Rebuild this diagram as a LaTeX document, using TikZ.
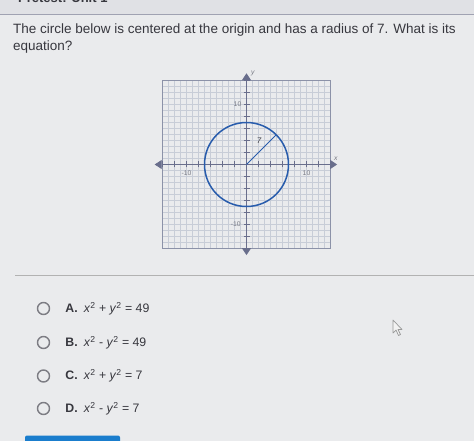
\documentclass[tikz,border=0pt]{standalone}
\usepackage{fontspec}
\setmainfont{Liberation Sans}
\usetikzlibrary{arrows.meta,positioning}
\definecolor{bgpage}{RGB}{234,235,237}
\definecolor{bgtop}{RGB}{224,225,229}
\definecolor{sepline}{RGB}{160,162,178}
\definecolor{gridline}{RGB}{200,205,215}
\definecolor{gridframe}{RGB}{140,146,168}
\definecolor{axisline}{RGB}{105,110,140}
\definecolor{circblue}{RGB}{40,92,172}
\definecolor{inkgray}{RGB}{55,55,62}
\definecolor{ticktext}{RGB}{120,122,132}
\definecolor{radiogray}{RGB}{125,125,132}
\definecolor{btnblue}{RGB}{26,125,205}
\begin{document}
\begin{tikzpicture}[x=1pt,y=-1pt,
  qtext/.style={anchor=base west,inner sep=0pt,text=inkgray,font=\fontsize{13.5}{16}\selectfont},
  radio/.style={draw=radiogray,circle,line width=1.4pt,minimum size=12pt,inner sep=0pt},
  optlabel/.style={anchor=west,inner sep=0pt,text=inkgray,font=\fontsize{12.3}{14}\selectfont},
  ticklabel/.style={inner sep=0pt,text=ticktext,font=\fontsize{6.8}{7}\selectfont},
  axis/.style={draw=axisline,line width=0.8pt,{Triangle[width=9pt,length=7pt]}-{Triangle[width=9pt,length=7pt]}},
  node distance={15pt}]
  \useasboundingbox (0,0) rectangle (474,441);
  \clip (0,0) rectangle (474,441);
  % page background
  \fill[bgpage] (0,0) rectangle (474,441);
  \fill[bgtop] (0,0) rectangle (474,15);
  \draw[sepline,line width=1pt] (0,15) -- (474,15);
  \draw[gray!60,line width=0.5pt] (15,275) -- (474,275);
  \node[anchor=base west,inner sep=0pt,text=inkgray,font=\fontsize{13}{15}\selectfont\bfseries] (title) at (18,2.5) {Pretest: Unit 1};
  % question
  \node[qtext] (q1) at (13,34) {The circle below is centered at the origin and has a radius of 7. What is its};
  \node[qtext] (q2) at (13,51) {equation?};
  % graph
  \begin{scope}[xshift=246.5pt,yshift=-164.5pt,x=6pt,y=6pt]
    \draw[gridline,line width=0.4pt,step=6pt] (-14,-14) grid (14,14);
    \draw[gridframe,line width=0.8pt] (-14,-14) rectangle (14,14);
    \coordinate (xl) at (-15.3,0);
    \coordinate (xr) at (15.1,0);
    \coordinate (yb) at (0,-15.1);
    \coordinate (yt) at (0,15.2);
    \draw[axis] (xl) -- (xr);
    \draw[axis] (yb) -- (yt);
    \foreach \t in {-14,-12,...,14} {
      \draw[axisline,line width=0.6pt] (\t,-0.5) -- (\t,0.5);
      \draw[axisline,line width=0.6pt] (-0.5,\t) -- (0.5,\t);
    }
    \node[ticklabel] (xm10) at (-10,-1.4) {-10};
    \node[ticklabel] (xp10) at (10,-1.4) {10};
    \node[ticklabel] (yp10) at (-1.5,10) {10};
    \node[ticklabel] (ym10) at (-1.8,-10) {-10};
    \node[ticklabel] (xlab) at (14.9,1.0) {\textit{x}};
    \node[ticklabel] (ylab) at (1.1,15.1) {\textit{y}};
    \coordinate (origin) at (0,0);
    \coordinate (rimpt) at (45:7);
    \draw[circblue,line width=1.5pt] (origin) circle (7);
    \draw[circblue,line width=1pt] (origin) -- (rimpt);
    \node[inner sep=0pt,text=inkgray,font=\fontsize{8}{9}\selectfont\itshape] (rlab) at (2.1,3.9) {7};
  \end{scope}
  % answer choices
  \node[radio] (radA) at (43.5,308.5) {};
  \node[radio] (radB) at (43.5,342.5) {};
  \node[radio] (radC) at (43.5,376) {};
  \node[radio] (radD) at (43.5,408.5) {};
  \node[optlabel,right=15pt of radA] (optA) {\textbf{A.}\enspace\textit{x}\textsuperscript{2} + \textit{y}\textsuperscript{2} = 49};
  \node[optlabel,right=15pt of radB] (optB) {\textbf{B.}\enspace\textit{x}\textsuperscript{2} - \textit{y}\textsuperscript{2} = 49};
  \node[optlabel,right=15pt of radC] (optC) {\textbf{C.}\enspace\textit{x}\textsuperscript{2} + \textit{y}\textsuperscript{2} = 7};
  \node[optlabel,right=15pt of radD] (optD) {\textbf{D.}\enspace\textit{x}\textsuperscript{2} - \textit{y}\textsuperscript{2} = 7};
  % mouse pointer
  \draw[gray!80,fill=white!90!gray,line width=0.7pt,line join=round]
    (393,320) -- (393,333) -- (396,330) -- (398.5,335.5) -- (400.5,334.5) -- (398,329.5) -- (402,329.5) -- cycle;
  % submit button
  \fill[btnblue,rounded corners=2pt] (25,435.5) rectangle (120,450);
\end{tikzpicture}
\end{document}
